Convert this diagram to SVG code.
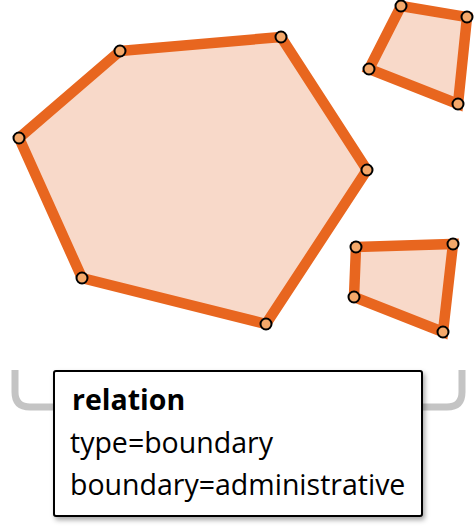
<svg xmlns="http://www.w3.org/2000/svg" width="474" height="526" viewBox="0 0 474 526">
<style>
.area{fill:#f8d9c9;stroke:#e8661f;stroke-width:10.5;stroke-linejoin:miter}
.node{fill:#f4a86a;stroke:#000;stroke-width:2}
.br{fill:none;stroke:#c4c4c4;stroke-width:7;stroke-linecap:butt}
.t{font-family:"Open Sans","DejaVu Sans",sans-serif;font-size:28.5px;fill:#000}
</style>
<defs>
<filter id="sh" x="-10%" y="-10%" width="130%" height="130%">
<feDropShadow dx="2" dy="3" stdDeviation="2.5" flood-color="#000" flood-opacity="0.35"/>
</filter>
</defs>
<g id="connectors">
<path class="br" d="M15,370 V392 Q15,407 30,407 H60"/>
<path class="br" d="M415,407 H447 Q462,407 462,392 V370"/>
</g>
<g id="hexagon">
<polygon class="area" points="120,51 281,37 367,170 266,324 82,278 19,138"/>
<circle class="node" cx="120" cy="51" r="5.5"/>
<circle class="node" cx="281" cy="37" r="5.5"/>
<circle class="node" cx="367" cy="170" r="5.5"/>
<circle class="node" cx="266" cy="324" r="5.5"/>
<circle class="node" cx="82" cy="278" r="5.5"/>
<circle class="node" cx="19" cy="138" r="5.5"/>
</g>
<g id="quad1">
<polygon class="area" points="401,6 467,17 458,104 369,69"/>
<circle class="node" cx="401" cy="6" r="5.5"/>
<circle class="node" cx="467" cy="17" r="5.5"/>
<circle class="node" cx="458" cy="104" r="5.5"/>
<circle class="node" cx="369" cy="69" r="5.5"/>
</g>
<g id="quad2">
<polygon class="area" points="356,247 453,244 443,332 354,297"/>
<circle class="node" cx="356" cy="247" r="5.5"/>
<circle class="node" cx="453" cy="244" r="5.5"/>
<circle class="node" cx="443" cy="332" r="5.5"/>
<circle class="node" cx="354" cy="297" r="5.5"/>
</g>
<g id="relation">
<rect x="54" y="371" width="368" height="145" rx="2" fill="#fff" stroke="#000" stroke-width="2" filter="url(#sh)"/>
<text class="t" x="72" y="410" font-weight="bold">relation</text>
<text class="t" x="70" y="453">type=boundary</text>
<text class="t" x="70" y="495">boundary=administrative</text>
</g>
</svg>
